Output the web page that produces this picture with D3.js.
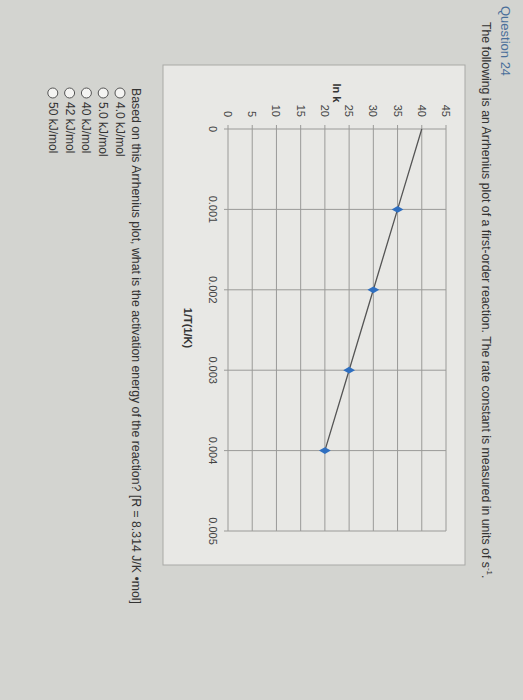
<!DOCTYPE html>
<html><head><meta charset="utf-8">
<script src="https://cdn.jsdelivr.net/npm/d3@7"></script>
<style>body{margin:0;background:#d3d4d0}svg{display:block}text{font-family:"Liberation Sans",Arial,sans-serif}</style>
</head><body><svg width="523" height="700"></svg>
<script>
var invT = [0, 0.001, 0.002, 0.003, 0.004];
var lnK = [40, 35, 30, 25, 20];
var xTicks = [0, 0.001, 0.002, 0.003, 0.004, 0.005];
var yTicks = [0, 5, 10, 15, 20, 25, 30, 35, 40, 45];
var options = ['4.0 kJ/mol', '5.0 kJ/mol', '40 kJ/mol', '42 kJ/mol', '50 kJ/mol'];

var svg = d3.select('svg');
// photo is rotated a quarter turn, so draw everything in a turned frame
var g = svg.append('g').attr('transform', 'translate(523,0) rotate(90)');

g.append('text').attr('x', 6).attr('y', 22).attr('font-size', 13).attr('fill', '#4a6f9a').text('Question 24');
g.append('text').attr('x', 22).attr('y', 41).attr('font-size', 12.3).attr('fill', '#333')
  .html('The following is an Arrhenius plot of a first-order reaction. The rate constant is measured in units of s<tspan dy="-5" font-size="8">-1</tspan><tspan dy="5">.</tspan>');

g.append('rect').attr('x', 65).attr('y', 58).attr('width', 500).attr('height', 302)
  .attr('fill', '#e8e8e5').attr('stroke', '#a9a9a6');

var x = d3.scaleLinear().domain([0, 0.005]).range([129, 531]);
var y = d3.scaleLinear().domain([0, 45]).range([295, 77]);

g.selectAll('.vg').data(xTicks).join('line')
  .attr('x1', d => x(d)).attr('x2', d => x(d)).attr('y1', y(45)).attr('y2', y(0) + 4)
  .attr('stroke', '#9a9a98');
g.selectAll('.hg').data(yTicks).join('line')
  .attr('x1', x(0) - 4).attr('x2', x(0.005)).attr('y1', d => y(d)).attr('y2', d => y(d))
  .attr('stroke', '#9a9a98');

g.selectAll('.yl').data(yTicks).join('text')
  .attr('x', x(0) - 12).attr('y', d => y(d) + 4).attr('text-anchor', 'end')
  .attr('font-size', 11).attr('fill', '#444').text(d => d);
g.selectAll('.xl').data(xTicks).join('text')
  .attr('x', d => x(d)).attr('y', y(0) + 19).attr('text-anchor', 'middle')
  .attr('font-size', 11).attr('fill', '#444').text(d => d === 0 ? '0' : d.toFixed(3));

g.append('text').attr('x', 93).attr('y', 190).attr('text-anchor', 'middle')
  .attr('font-size', 11).attr('font-weight', 'bold').attr('fill', '#333').text('ln k');
g.append('text').attr('x', 328).attr('y', 339).attr('text-anchor', 'middle')
  .attr('font-size', 11).attr('font-weight', 'bold').attr('fill', '#333').text('1/T(1/K)');

var pts = invT.map((d, i) => [d, lnK[i]]);
g.append('path').datum(pts)
  .attr('d', d3.line().x(d => x(d[0])).y(d => y(d[1])))
  .attr('fill', 'none').attr('stroke', '#555').attr('stroke-width', 1.3);
g.selectAll('.pt').data(pts.slice(1)).join('path')
  .attr('transform', d => 'translate(' + x(d[0]) + ',' + y(d[1]) + ')')
  .attr('d', d3.symbol(d3.symbolDiamond, 40)).attr('fill', '#2f6fc0');

g.append('text').attr('x', 88).attr('y', 391).attr('font-size', 12.3).attr('fill', '#333')
  .text('Based on this Arrhenius plot, what is the activation energy of the reaction? [R = 8.314 J/K \u2022mol]');
options.forEach(function(o, i) {
  var yy = 407 + i * 16.8;
  g.append('circle').attr('cx', 93).attr('cy', yy - 4).attr('r', 5).attr('fill', '#f4f4f2').attr('stroke', '#555');
  g.append('text').attr('x', 102).attr('y', yy).attr('font-size', 12).attr('fill', '#333').text(o);
});
</script></body></html>
